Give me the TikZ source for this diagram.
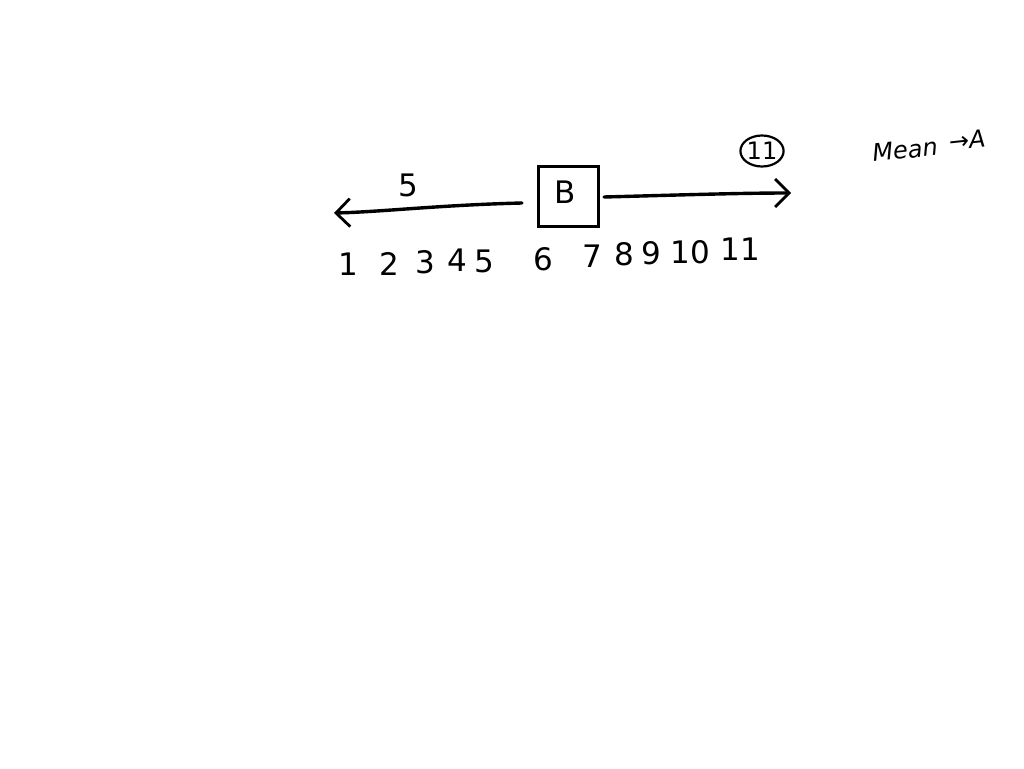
\documentclass[tikz,border=0pt]{standalone}
\usepackage{fontspec}
\setmainfont{DejaVu Sans}
\usetikzlibrary{arrows.meta,shapes.geometric}
\begin{document}
\begin{tikzpicture}[x=1pt,y=-1pt,
  ink/.style={line width=3.4pt,line cap=round,line join=round},
  num/.style={font=\fontsize{31}{33}\selectfont,inner sep=0pt},
  note/.style={font=\itshape\fontsize{24}{26}\selectfont,inner sep=0pt,rotate=6},
  tip/.style={-{Straight Barb[length=14pt,width=28pt,line width=2.8pt]}}]
\useasboundingbox (0,0) rectangle (1024,768);
\fill[white] (0,0) rectangle (1024,768);
\node[draw,line width=3pt,minimum width=60pt,minimum height=60pt,inner sep=0pt] (box) at (568,196) {};
\node[num] (B) at (565,192) {B};
\coordinate (lstart) at (522,203);
\coordinate (lend) at (334,213);
\coordinate (rstart) at (604,197);
\coordinate (rend) at (791,193);
\draw[ink,tip] (lstart) .. controls (440,205) and (380,212) .. (lend);
\draw[ink,tip] (rstart) .. controls (680,195) and (740,193) .. (rend);
\node[num] (five) at (408,185) {5};
\node[ellipse,draw,line width=2.2pt,minimum width=42pt,minimum height=31pt,inner sep=0pt,font=\fontsize{24}{26}\selectfont] (eleven) at (762,151) {11};
\node[num] (n1) at (348,264) {1};
\node[num] (n2) at (389,264) {2};
\node[num] (n3) at (425,262) {3};
\node[num] (n4) at (457,260) {4};
\node[num] (n5) at (484,261) {5};
\node[num] (n6) at (543,259) {6};
\node[num] (n7) at (592,256) {7};
\node[num] (n8) at (624,254) {8};
\node[num] (n9) at (651,253) {9};
\node[num] (n10) at (690,252) {10};
\node[num] (n11) at (740,249) {11};
\node[note] (mean) at (905,150) {Mean};
\node[note] (toA) at (967,140) {→A};
\end{tikzpicture}
\end{document}
